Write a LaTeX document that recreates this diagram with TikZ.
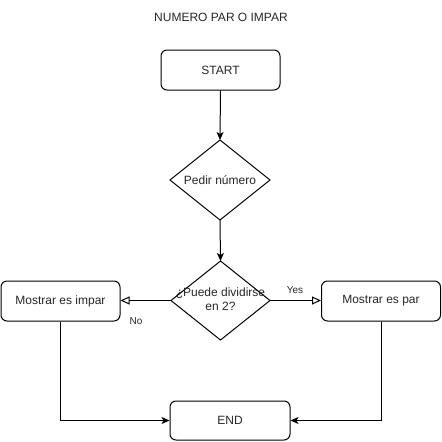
\documentclass[tikz,border=0pt]{standalone}
\usepackage{fontspec}
\setmainfont{Liberation Sans}
\usetikzlibrary{shapes.geometric,arrows.meta}
\begin{document}
\begin{tikzpicture}[x=1pt,y=-1pt,
  every node/.style={font=\fontsize{12}{14}\selectfont, text=black!85},
  rbox/.style={draw, rounded corners=6pt, line width=1pt, minimum width=119pt, minimum height=40pt, inner sep=0pt},
  shp/.style={draw, line width=1pt},
  conn/.style={line width=1pt, -{Stealth[length=8pt,width=7pt,inset=2pt]}},
  oconn/.style={line width=1pt, -{Triangle[open,length=9pt,width=8pt]}},
  lbl/.style={font=\fontsize{10}{12}\selectfont}
]
\useasboundingbox (0,0) rectangle (442,442);
\node (title) at (221,17) {NUMERO PAR O IMPAR};
\node[rbox] (start) at (220.5,70) {START};
\path[shp] (170,180) -- (220,140) -- (270,180) -- (220,220) -- cycle;
\node (d1) at (220,180) {Pedir número};
\coordinate (d1t) at (220,140);
\coordinate (d1b) at (220,220);
\path[shp] (171,300.5) -- (220.5,261) -- (270,300.5) -- (220.5,340) -- cycle;
\node[align=center] (d2) at (220.5,299) {¿Puede dividirse\\en 2?};
\coordinate (d2t) at (220.5,261);
\coordinate (d2l) at (171,300.5);
\coordinate (d2r) at (270,300.5);
\node[rbox] (impar) at (60.5,301) {Mostrar es impar};
\node[rbox] (par) at (381,301) {Mostrar es par};
\node[rbox, minimum width=120pt, minimum height=39pt] (end) at (230,420.5) {END};
\draw[conn] (start.south) -- (d1t);
\draw[conn] (d1b) -- (d2t);
\draw[oconn] (d2l) -- (impar.east |- d2l);
\draw[oconn] (d2r) -- (par.west |- d2r);
\node[lbl] (no) at (136,321) {No};
\node[lbl] (yes) at (295,290) {Yes};
\draw[conn] (impar.south) |- (end.west);
\draw[conn] (par.south) |- (end.east);
\end{tikzpicture}
\end{document}
